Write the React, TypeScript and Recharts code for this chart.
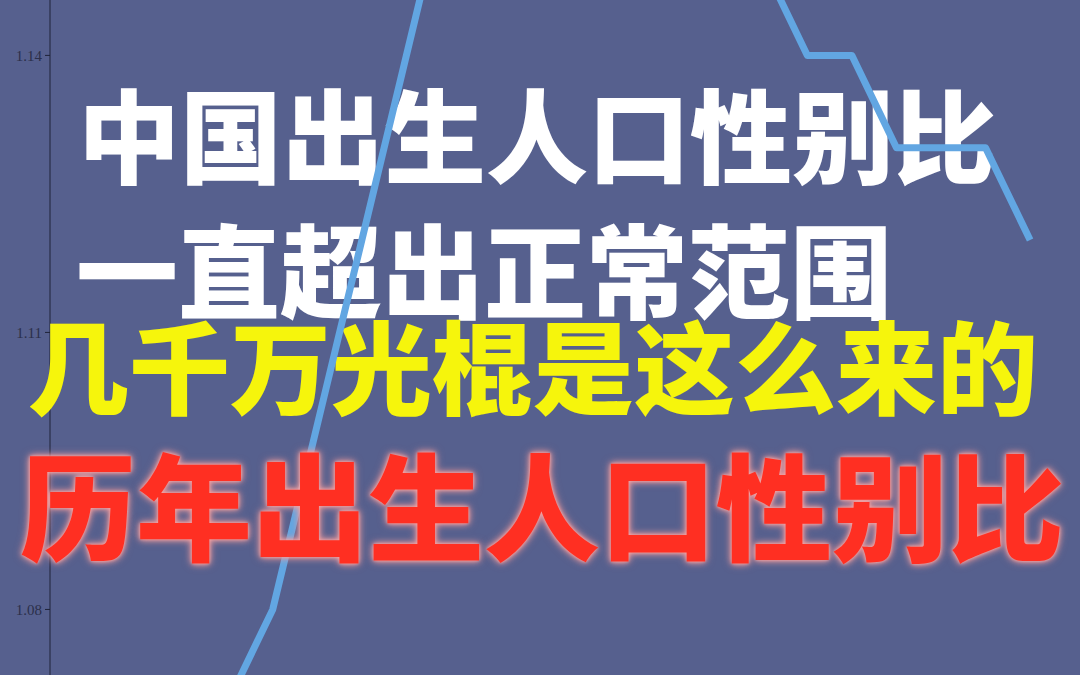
import React from "react";
import { LineChart, Line, XAxis, YAxis } from "recharts";

// x position of each point (step index along the time axis)
const pointIndex = [-1, 0, 1, 2, 3, 4, 5, 6, 7, 8, 9, 10, 11, 12, 13, 14, 15, 16, 17];
// sex ratio at birth (male / female)
const sexRatio = [1.07, 1.08, 1.10, 1.12, 1.14, 1.16, 1.17, 1.19, 1.20, 1.21, 1.19, 1.17, 1.15, 1.14, 1.14, 1.13, 1.13, 1.13, 1.12];
const yTicks = [1.08, 1.11, 1.14];

const titleLine1 = "中国出生人口性别比";
const titleLine2 = "一直超出正常范围";
const titleLine3 = "几千万光棍是这么来的";
const titleLine4 = "历年出生人口性别比";

const data = pointIndex.map((i, k) => ({ i, v: sexRatio[k] }));

const W = 1080;
const H = 675;
const X_DOMAIN: [number, number] = [-5, 18.12];
const Y_DOMAIN: [number, number] = [1.0729, 1.146];

const cjk = '"Noto Sans CJK SC", "Noto Sans", sans-serif';

function AxisChart() {
  return (
    <LineChart width={W} height={H} data={data} margin={{ top: 0, right: 0, bottom: 0, left: 0 }}>
      <XAxis type="number" dataKey="i" domain={X_DOMAIN} allowDataOverflow hide />
      <YAxis
        type="number"
        domain={Y_DOMAIN}
        allowDataOverflow
        ticks={yTicks}
        width={50}
        tickSize={5}
        tickMargin={3}
        tickFormatter={(v: number) => v.toFixed(2)}
        axisLine={{ stroke: "#1f2338", strokeWidth: 1 }}
        tickLine={{ stroke: "#1f2338" }}
        tick={{ fill: "#2b2f4a", fontSize: 15, fontFamily: '"Liberation Serif", serif' }}
      />
    </LineChart>
  );
}

function LineOnlyChart() {
  return (
    <LineChart width={W} height={H} data={data} margin={{ top: 0, right: 0, bottom: 0, left: 0 }}>
      <XAxis type="number" dataKey="i" domain={X_DOMAIN} allowDataOverflow hide />
      <YAxis
        type="number"
        domain={Y_DOMAIN}
        allowDataOverflow
        ticks={yTicks}
        width={50}
        axisLine={false}
        tickLine={false}
        tick={false}
      />
      <Line
        type="linear"
        dataKey="v"
        stroke="#62a6e2"
        strokeWidth={7}
        strokeLinejoin="round"
        dot={false}
        activeDot={false}
        isAnimationActive={false}
      />
    </LineChart>
  );
}

const layer: React.CSSProperties = { position: "absolute", left: 0, top: 0 };

function Title({ text, left, top, size, color, shadow }: { text: string; left: number; top: number; size: number; color: string; shadow?: string }) {
  return (
    <div
      style={{
        position: "absolute",
        left,
        top,
        fontFamily: cjk,
        fontWeight: 900,
        fontSize: size,
        lineHeight: 1,
        color,
        whiteSpace: "nowrap",
        textShadow: shadow,
      }}
    >
      {text}
    </div>
  );
}

export default function App() {
  return (
    <div style={{ position: "fixed", left: 0, top: 0, width: W, height: H, background: "#56608e", overflow: "hidden" }}>
      <div style={layer}>
        <AxisChart />
      </div>
      <Title text={titleLine1} left={78} top={81} size={102} color="#ffffff" />
      <Title text={titleLine2} left={76} top={216} size={102} color="#ffffff" />
      <Title text={titleLine3} left={28} top={313} size={101} color="#f6f50c" />
      <div style={layer}>
        <LineOnlyChart />
      </div>
      <Title
        text={titleLine4}
        left={20}
        top={443}
        size={116}
        color="#ff2f22"
        shadow="0 0 3px #f5a3a3, 0 0 6px #f5a3a3, 0 0 10px rgba(245,150,150,0.8)"
      />
    </div>
  );
}
